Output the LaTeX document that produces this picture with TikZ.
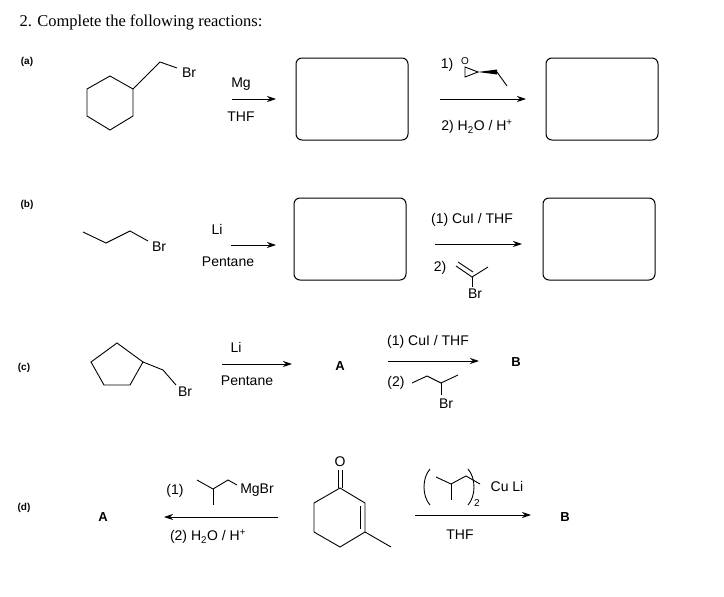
\documentclass[tikz,border=0pt]{standalone}
\usepackage{fontspec}
\usetikzlibrary{arrows.meta}
\setmainfont{Liberation Sans}
\newfontfamily\titlefont{Liberation Serif}
\begin{document}
\begin{tikzpicture}[x=1pt,y=-1pt,
 bd/.style={line width=0.9pt},
 arr/.style={line width=0.9pt,-{Stealth[length=9pt,width=6pt]}},
 box/.style={draw,rounded corners=6pt,line width=1pt,minimum width=112pt,minimum height=82pt},
 lab/.style={font=\bfseries\fontsize{10}{11}\selectfont},
 t/.style={font=\fontsize{14}{15}\selectfont,inner sep=0pt},
 bb/.style={t,font=\bfseries\fontsize{13}{14}\selectfont}]
\useasboundingbox (0,0) rectangle (724,597);
\node[anchor=west,font=\titlefont\fontsize{16.5}{18}\selectfont] (title) at (16,22) {2. Complete the following reactions:};
% (a)
\node[lab] (la) at (27,62) {(a)};
\draw[bd] (110,76)--(133,89)--(133,116)--(110,130)--(87,116)--(87,89)--cycle;
\draw[bd] (133,89)--(160,62)--(177,68);
\node[t] (bra) at (189,73) {Br};
\node[t] (mg) at (241,84) {Mg};
\coordinate (a1) at (232,99); \coordinate (a2) at (276,99);
\draw[arr] (a1)--(a2);
\node[t] (thfa) at (241,117) {THF};
\node[box] (boxa1) at (352,99) {};
\node[box] (boxa2) at (602,99) {};
\coordinate (a3) at (440,99); \coordinate (a4) at (526,99);
\draw[arr] (a3)--(a4);
\node[t] (one) at (447,65) {1)};
\node[t,font=\fontsize{10}{10}\selectfont] (oa) at (465,61) {O};
\draw[bd] (465,67)--(465,77)--(478,72)--cycle;
\fill (478,72)--(497,69.5)--(497,74.5)--cycle;
\draw[bd] (497,72)--(507,86);
\node[t] (two) at (477,127) {2) H\textsubscript{2}O / H\textsuperscript{+}};
% (b)
\node[lab] (lb) at (27,205) {(b)};
\draw[bd] (83,232)--(106,243)--(130,231)--(148,241);
\node[t] (brb) at (159,247) {Br};
\node[t] (li) at (217,229) {Li};
\coordinate (b1) at (231,245); \coordinate (b2) at (276,245);
\draw[arr] (b1)--(b2);
\node[t] (pen) at (228,262) {Pentane};
\node[box] (boxb1) at (350,239) {};
\node[box] (boxb2) at (599,239) {};
\coordinate (b3) at (435,244); \coordinate (b4) at (522,244);
\draw[arr] (b3)--(b4);
\node[t] (cui) at (472,220) {(1) CuI / THF};
\node[t] (b2l) at (440,268) {2)};
\draw[bd] (456,266)--(472,277)--(488,267); \draw[bd] (458,262)--(473,272);
\draw[bd] (472,277)--(472,287);
\node[t] (brb2) at (475,294) {Br};
% (c)
\node[lab] (lc) at (24,368) {(c)};
\draw[bd] (143,362)--(130,385)--(104,385)--(91,362)--(117,343)--cycle;
\draw[bd] (143,362)--(163,370)--(176,385);
\node[t] (brc) at (185,392) {Br};
\node[t] (lic) at (236,347) {Li};
\coordinate (c1) at (222,364); \coordinate (c2) at (292,364);
\draw[arr] (c1)--(c2);
\node[t] (penc) at (247,381) {Pentane};
\node[bb] (ca) at (340,366) {A};
\coordinate (c3) at (388,361); \coordinate (c4) at (479,361);
\draw[arr] (c3)--(c4);
\node[t] (cuic) at (428,342) {(1) CuI / THF};
\node[bb] (cb) at (516,362) {B};
\node[t] (c2l) at (396,383) {(2)};
\draw[bd] (412,383)--(427,376)--(441,383)--(458,375); \draw[bd] (441,383)--(441,395);
\node[t] (brc2) at (446,404) {Br};
% (d)
\node[lab] (ld) at (24,508) {(d)};
\node[bb] (da) at (103,517) {A};
\coordinate (d1) at (278,517); \coordinate (d2) at (164,517);
\draw[arr] (d1)--(d2);
\node[t] (d1l) at (175,491) {(1)};
\draw[bd] (197,480)--(213,489)--(228,480)--(237,485); \draw[bd] (213,489)--(213,505);
\node[t] (mgbr) at (257,490) {MgBr};
\node[t] (d2l) at (208,537) {(2) H\textsubscript{2}O / H\textsuperscript{+}};
\draw[bd] (340,488)--(365,503)--(365,532)--(340,547)--(314,532)--(314,503)--cycle;
\draw[bd] (360,506)--(360,529);
\draw[bd] (365,532)--(391,547);
\draw[bd] (338,488)--(338,470) (342,488)--(342,470);
\node[t] (od) at (340,462) {O};
\coordinate (d3) at (415,515); \coordinate (d4) at (531,515);
\draw[arr] (d3)--(d4);
\draw[bd] (430,469) .. controls (422,478) and (422,496) .. (430,505);
\draw[bd] (468,469) .. controls (476,478) and (476,496) .. (468,505);
\node[t,font=\fontsize{10}{10}\selectfont] (sub2) at (477,503) {2};
\draw[bd] (436,477)--(451,484)--(466,476)--(480,484); \draw[bd] (451,484)--(451,500);
\node[t] (culi) at (507,486) {Cu Li};
\node[t] (thfd) at (460,535) {THF};
\node[bb] (db) at (565,517) {B};
\end{tikzpicture}
\end{document}
